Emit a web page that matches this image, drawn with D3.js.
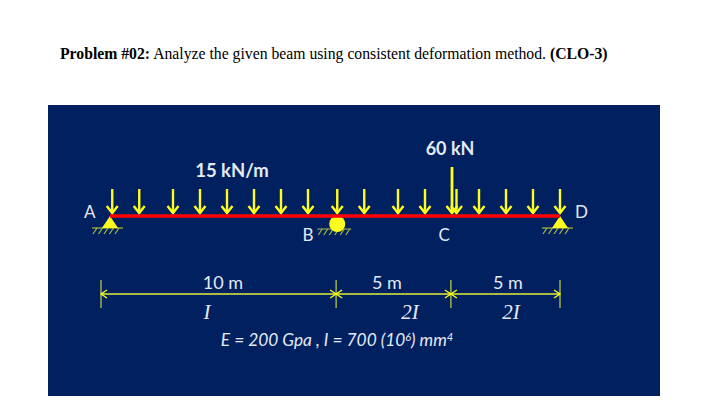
<!doctype html>
<html lang="en">
<head>
  <meta charset="UTF-8">
  <title>Beam problem</title>
  <script src="https://d3js.org/d3.v7.min.js"></script>
  <style>
    html, body { margin: 0; padding: 0; background: #fff; }
    svg { display: block; }
    text { font-family: Lato, sans-serif; fill: #e4eaf4; }
  </style>
</head>
<body>
  <script>

    // positions along the beam in metres
    var udlArrows = [0.1, 1.3, 2.8, 4.0, 5.2, 6.4, 7.6, 8.8, 10.1, 11.3, 12.8, 14.0, 15.4, 16.4, 17.6, 18.8, 20.0];
    var pointLoadAt = [15.2];
    var pinSupports = [0, 20];
    var rollerSupports = [10.1];
    var dimTicks = [-0.4, 10.05, 15.15, 20];
    var spanLabels = ["10 m", "5 m", "5 m"];
    var inertiaLabels = ["I", "2I", "2I"];
    var nodeLabels = [
      { name: "A", at: -0.9, y: 218 },
      { name: "B", at: 8.8, y: 241 },
      { name: "C", at: 14.85, y: 241 },
      { name: "D", at: 20.95, y: 218 }
    ];

    var width = 719, height = 405;
    var beamY = 216;
    var yellow = "#ffff1e", olive = "#aabb45";

    var x = d3.scaleLinear().domain([0, 20]).range([110, 560]);

    var svg = d3.select("body").append("svg")
      .attr("width", width)
      .attr("height", height);

    svg.append("rect").attr("width", width).attr("height", height).attr("fill", "#fff");

    // heading
    var title = svg.append("text")
      .attr("x", 60).attr("y", 59)
      .style("font-family", "'Liberation Serif', serif")
      .style("font-size", "15.72px")
      .style("fill", "#000");
    title.append("tspan").style("font-weight", "bold").text("Problem #02:");
    title.append("tspan").text(" Analyze the given beam using consistent deformation method. ");
    title.append("tspan").style("font-weight", "bold").text("(CLO-3)");

    // slide panel
    svg.append("rect")
      .attr("x", 48).attr("y", 105)
      .attr("width", 612).attr("height", 291)
      .attr("fill", "#002060");

    function arrow (g, px, top, w) {
      g.append("line")
        .attr("x1", px).attr("x2", px)
        .attr("y1", top).attr("y2", beamY - 3)
        .attr("stroke", yellow).attr("stroke-width", w);
      g.append("path")
        .attr("d", d3.line()([[px - 5.5, beamY - 10], [px, beamY - 3], [px + 5.5, beamY - 10]]))
        .attr("fill", "none")
        .attr("stroke", yellow).attr("stroke-width", 2.4);
    }

    function hatch (g, x0, x1, y) {
      g.append("line")
        .attr("x1", x0).attr("x2", x1)
        .attr("y1", y).attr("y2", y)
        .attr("stroke", olive).attr("stroke-width", 1.2);
      d3.range(x0 + 5, x1 + 1, 5.5).forEach(function (hx) {
        g.append("line")
          .attr("x1", hx).attr("x2", hx - 4)
          .attr("y1", y).attr("y2", y + 6)
          .attr("stroke", olive).attr("stroke-width", 1.2);
      });
    }

    // supports
    var supports = svg.append("g");
    pinSupports.forEach(function (d) {
      hatch(supports, x(d) - 18, x(d) + 13, beamY + 12);
      supports.append("path")
        .attr("d", d3.line()([[x(d), beamY], [x(d) - 8, beamY + 12], [x(d) + 8, beamY + 12]]) + "Z")
        .attr("fill", yellow);
    });
    rollerSupports.forEach(function (d) {
      hatch(supports, x(d) - 20, x(d) + 14, beamY + 13);
      supports.append("circle")
        .attr("cx", x(d)).attr("cy", beamY + 8)
        .attr("r", 8)
        .attr("fill", yellow);
    });

    // distributed load
    var loads = svg.append("g");
    udlArrows.forEach(function (d) {
      arrow(loads, x(d), 189, 2.4);
    });
    pointLoadAt.forEach(function (d) {
      arrow(loads, x(d), 167, 2.8);
    });

    // beam
    svg.append("line")
      .attr("x1", x(0)).attr("x2", x(20))
      .attr("y1", beamY).attr("y2", beamY)
      .attr("stroke", "#ff0000").attr("stroke-width", 3.5);

    // dimension line
    var dimY = 294;
    var dims = svg.append("g");
    dims.append("line")
      .attr("x1", x(dimTicks[0])).attr("x2", x(dimTicks[3]))
      .attr("y1", dimY).attr("y2", dimY)
      .attr("stroke", olive).attr("stroke-width", 2);
    dimTicks.forEach(function (d, i) {
      dims.append("line")
        .attr("x1", x(d)).attr("x2", x(d))
        .attr("y1", dimY - 14).attr("y2", dimY + 14)
        .attr("stroke", olive).attr("stroke-width", 1.4);
      if (i > 0) {
        dims.append("path")
          .attr("d", d3.line()([[x(d) - 6, dimY - 4], [x(d), dimY], [x(d) - 6, dimY + 4]]))
          .attr("fill", "none").attr("stroke", yellow).attr("stroke-width", 1.3);
      }
      if (i < dimTicks.length - 1) {
        dims.append("path")
          .attr("d", d3.line()([[x(d) + 6, dimY - 4], [x(d), dimY], [x(d) + 6, dimY + 4]]))
          .attr("fill", "none").attr("stroke", yellow).attr("stroke-width", 1.3);
      }
    });

    // span and inertia labels
    var spanX = [223, 387, 508];
    var inertiaX = [207, 410, 511];
    spanLabels.forEach(function (d, i) {
      svg.append("text")
        .attr("x", spanX[i]).attr("y", 289)
        .attr("text-anchor", "middle")
        .style("font-size", "18px")
        .text(d);
    });
    inertiaLabels.forEach(function (d, i) {
      svg.append("text")
        .attr("x", inertiaX[i]).attr("y", 319)
        .attr("text-anchor", "middle")
        .style("font-family", "'Liberation Serif', serif")
        .style("font-style", "italic")
        .style("font-size", "21px")
        .text(d);
    });

    // node letters
    nodeLabels.forEach(function (d) {
      svg.append("text")
        .attr("x", x(d.at)).attr("y", d.y)
        .attr("text-anchor", "middle")
        .style("font-size", "17px")
        .text(d.name);
    });

    // load labels
    svg.append("text")
      .attr("x", 232).attr("y", 177)
      .attr("text-anchor", "middle")
      .style("font-size", "18.5px").style("font-weight", "bold")
      .text("15 kN/m");
    svg.append("text")
      .attr("x", 450).attr("y", 155)
      .attr("text-anchor", "middle")
      .style("font-size", "18px").style("font-weight", "bold")
      .text("60 kN");

    // properties line
    var props = svg.append("text")
      .attr("x", 337).attr("y", 346)
      .attr("text-anchor", "middle")
      .style("font-size", "17.3px").style("font-style", "italic");
    props.append("tspan").text("E = 200 Gpa , I = 700 (10");
    props.append("tspan").attr("dy", -5).style("font-size", "11px").text("6");
    props.append("tspan").attr("dy", 5).text(") mm");
    props.append("tspan").attr("dy", -5).style("font-size", "11px").text("4");

  </script>
</body>
</html>
